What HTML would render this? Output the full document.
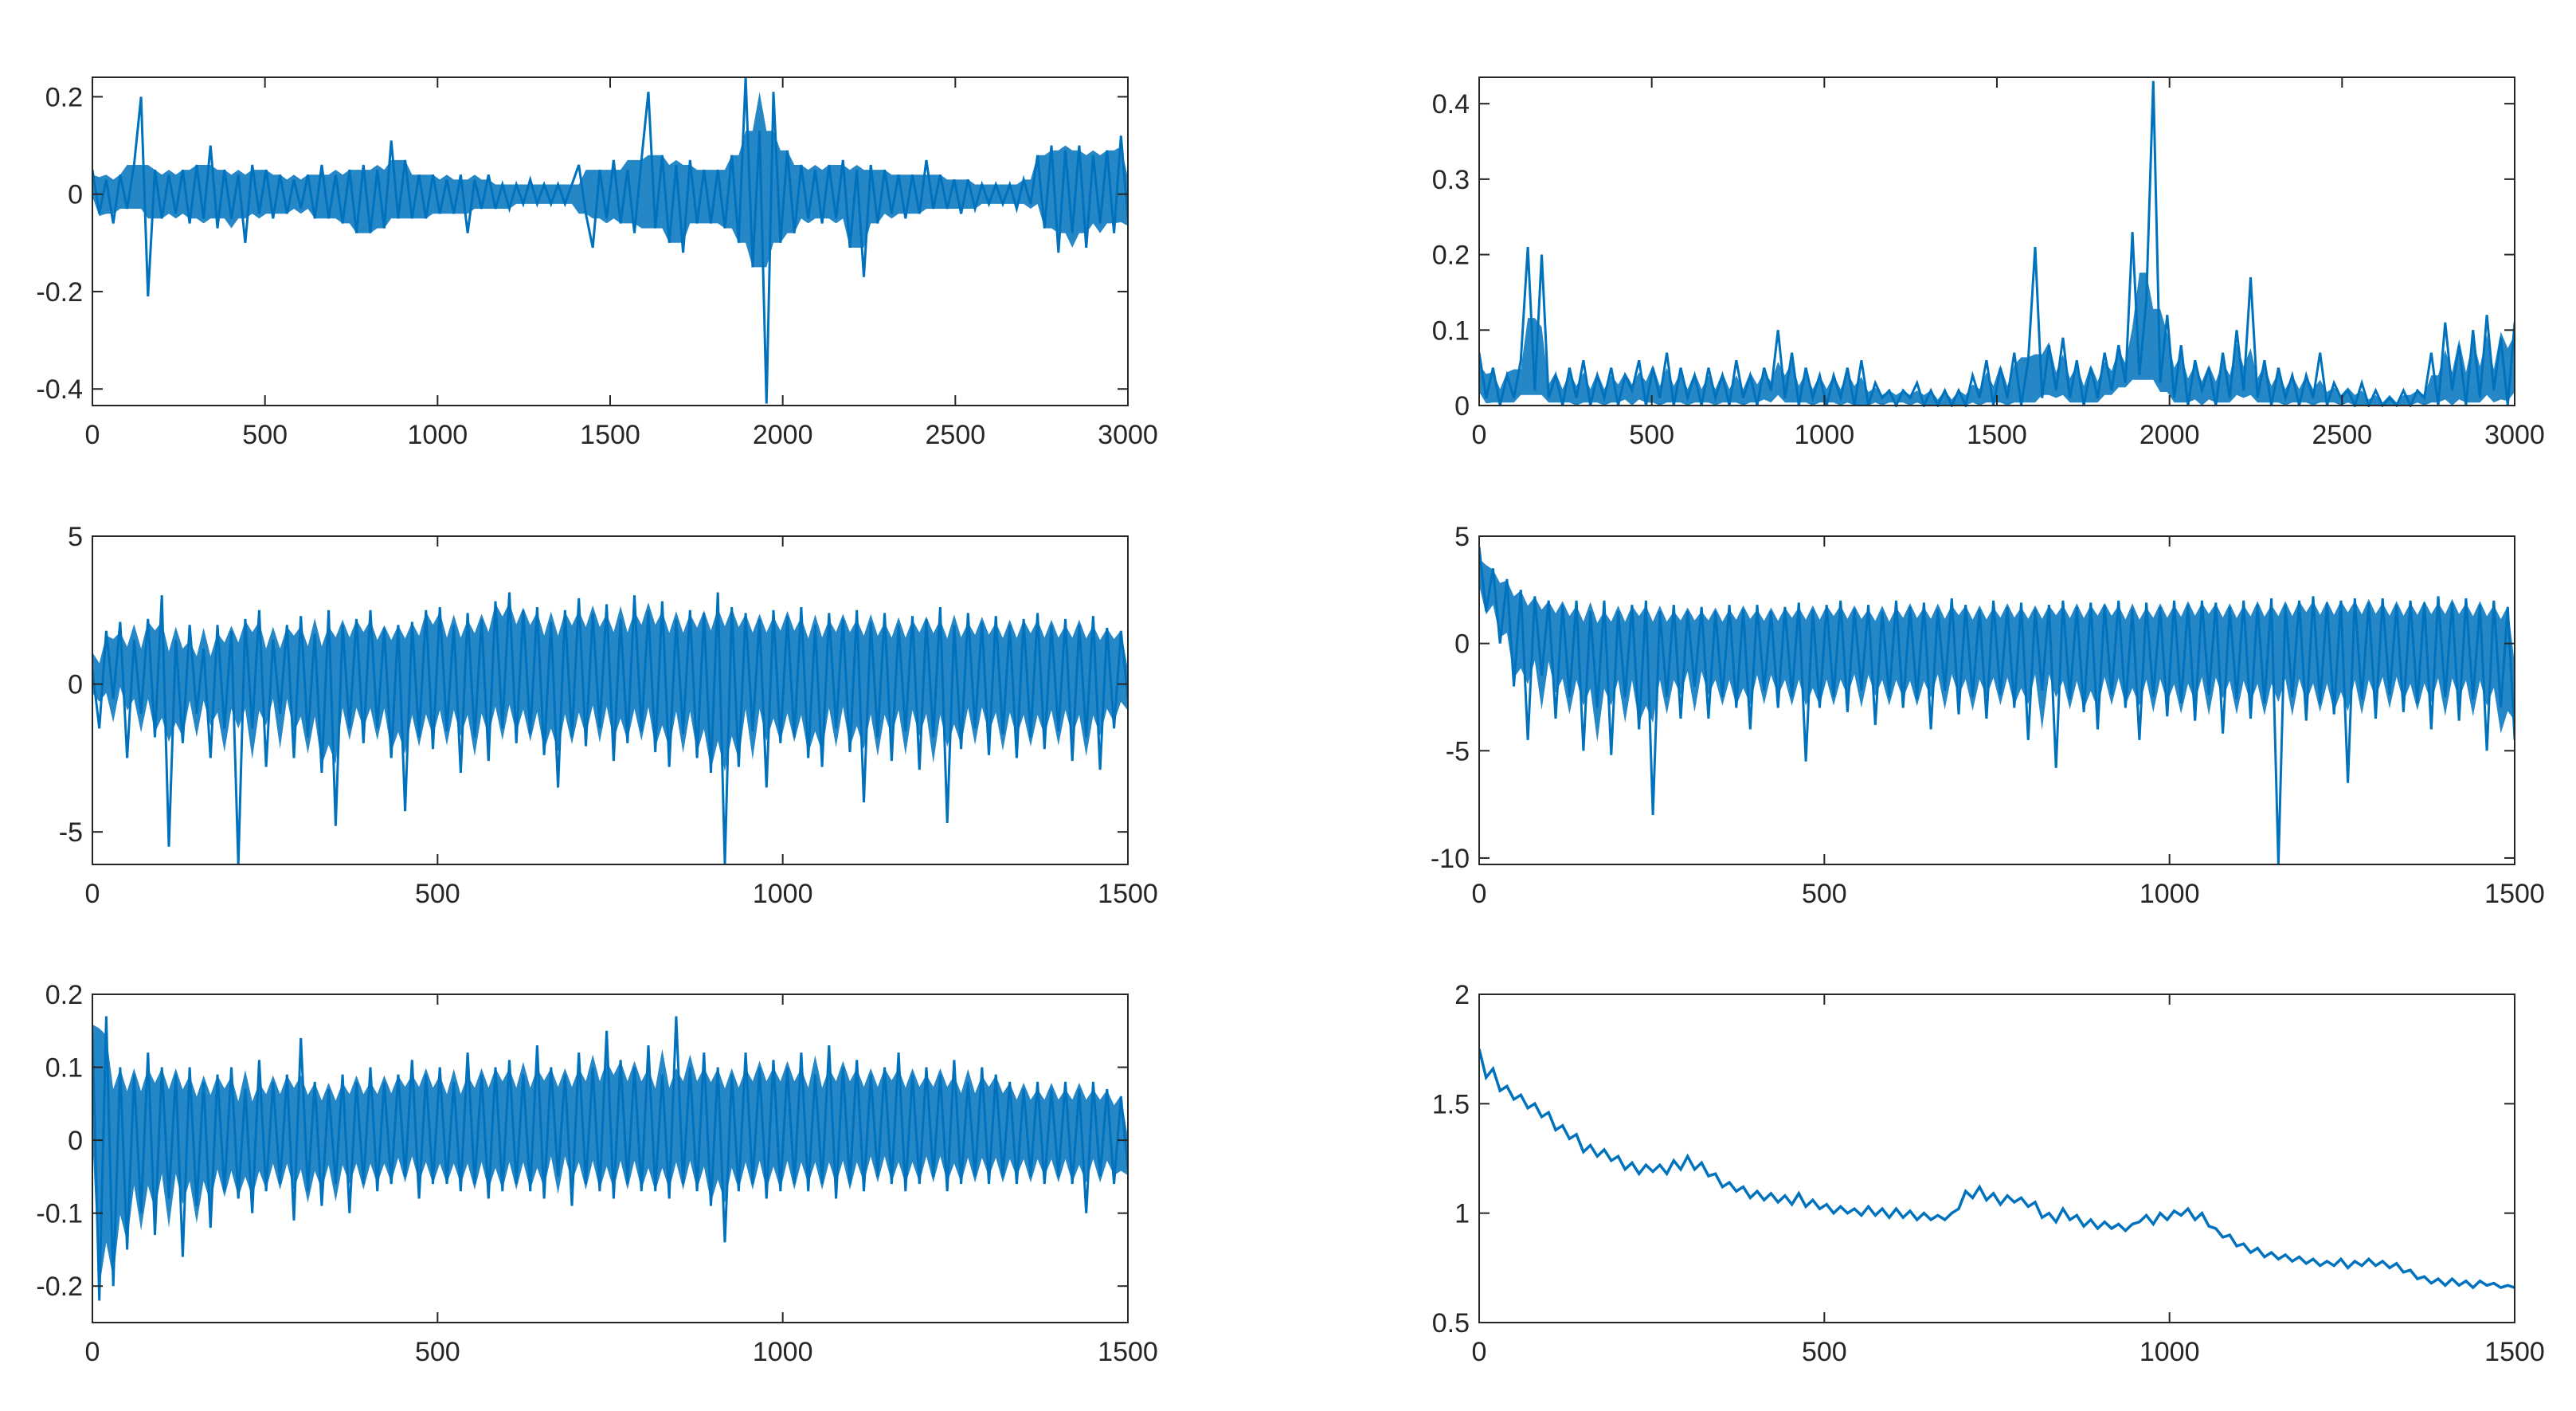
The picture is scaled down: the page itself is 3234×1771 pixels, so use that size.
<!DOCTYPE html>
<html><head><meta charset="utf-8"><style>
html,body{margin:0;padding:0;background:#fff;}
svg{display:block;font-family:"Liberation Sans",Arial,sans-serif;}
</style></head><body>
<svg id="fig" width="3234" height="1771" viewBox="0 0 3234 1771" xmlns="http://www.w3.org/2000/svg"></svg>
<script>
const p1Values=[0.05,-0.04,0.03,-0.06,0.04,-0.03,0.06,0.2,-0.21,0.05,-0.05,0.04,-0.04,0.05,-0.06,0.06,-0.05,0.1,-0.07,0.05,-0.05,0.04,-0.1,0.06,-0.04,0.05,-0.05,0.04,-0.04,0.03,-0.03,0.04,-0.05,0.06,-0.05,0.04,-0.06,0.05,-0.08,0.06,-0.08,0.05,-0.07,0.11,-0.05,0.07,-0.05,0.04,-0.05,0.04,-0.04,0.03,-0.04,0.04,-0.08,0.03,-0.03,0.04,-0.03,0.02,-0.03,0.02,-0.02,0.03,-0.02,0.02,-0.02,0.02,-0.02,0.02,0.06,-0.04,-0.11,0.05,-0.05,0.07,-0.06,0.05,-0.08,0.07,0.21,-0.07,0.08,-0.1,0.06,-0.12,0.07,-0.06,0.05,-0.06,0.05,-0.07,0.08,-0.1,0.24,-0.15,0.13,-0.43,0.21,-0.1,0.09,-0.08,0.06,-0.05,0.05,-0.06,0.06,-0.05,0.07,-0.11,0.05,-0.17,0.06,-0.06,0.05,-0.04,0.04,-0.05,0.04,-0.04,0.07,-0.03,0.04,-0.03,0.03,-0.04,0.03,-0.03,0.02,-0.02,0.02,-0.02,0.02,-0.03,0.03,-0.02,0.08,-0.07,0.1,-0.12,0.09,-0.08,0.1,-0.11,0.08,-0.06,0.09,-0.08,0.12,-0.05];
const p2Values=[0.07,0.01,0.05,0.0,0.04,0.01,0.06,0.21,0.02,0.2,0.01,0.04,0.0,0.05,0.01,0.06,0.0,0.04,0.01,0.05,0.0,0.04,0.02,0.06,0.0,0.05,0.01,0.07,0.0,0.05,0.01,0.04,0.0,0.05,0.01,0.04,0.0,0.06,0.01,0.04,0.0,0.05,0.02,0.1,0.01,0.07,0.0,0.05,0.01,0.04,0.0,0.04,0.01,0.05,0.0,0.06,0.0,0.03,0.01,0.02,0.0,0.02,0.01,0.03,0.0,0.02,0.0,0.02,0.0,0.02,0.0,0.04,0.01,0.06,0.0,0.05,0.01,0.07,0.0,0.06,0.21,0.01,0.08,0.02,0.09,0.01,0.06,0.0,0.05,0.01,0.07,0.02,0.08,0.03,0.23,0.04,0.14,0.43,0.03,0.12,0.01,0.08,0.0,0.06,0.02,0.05,0.0,0.07,0.01,0.1,0.02,0.17,0.01,0.06,0.0,0.05,0.01,0.04,0.0,0.04,0.01,0.07,0.0,0.03,0.01,0.02,0.0,0.03,0.0,0.02,0.0,0.01,0.0,0.02,0.0,0.02,0.01,0.07,0.0,0.11,0.02,0.08,0.0,0.1,0.01,0.12,0.02,0.09,0.0,0.11];
const p3Values=[0.5,-1.5,1.8,-0.5,2.1,-2.5,1.5,-1,2.2,-1.8,3.0,-5.5,1.5,-2,2,-1,1.2,-2.5,2,-1.5,1.8,-6.1,2.2,-1.5,2.5,-2.8,1.5,-1,2,-2.5,2.3,-1.8,1.7,-3,2.5,-4.8,2,-1.5,2.2,-2,2.5,-1.5,1.9,-2.5,2,-4.3,2.1,-1.8,2.5,-2.2,2.6,-1.6,2,-3,2.4,-1.8,2.2,-2.6,2.8,-1.5,3.1,-2,2.5,-1.7,2.6,-2.4,2.1,-3.5,2.5,-1.8,2.9,-2.1,2.4,-1.5,2.7,-2.6,2.2,-2,3.0,-1.6,2.5,-2.3,2.8,-2.8,2.2,-1.7,2.5,-2.5,2.4,-3,3.1,-6.1,2.6,-2.8,2.4,-1.6,2.2,-3.5,2.5,-2,2.3,-1.8,2.6,-2.5,2,-2.8,2.4,-1.5,2.2,-2.3,2.5,-4.0,2.1,-1.8,2.4,-2.6,2,-1.6,2.3,-2.9,2.2,-1.8,2.6,-4.7,2,-2.2,2.4,-1.5,2.1,-2.4,2.3,-1.7,2,-2.5,2.2,-1.8,2.4,-2.2,2,-1.6,2.2,-2.6,2,-1.8,2.3,-2.9,1.9,-1.5,1.8,-0.5];
const p4Values=[4.5,1.5,3.5,0,3,-2,2.5,-4.5,2.2,-1.5,2,-3.5,1.8,-2.5,2,-5,1.5,-3,2,-5.2,1.5,-2.5,1.8,-4,2,-8,1.5,-2.5,1.8,-3.5,1.5,-2,1.7,-3.5,1.5,-2.5,1.8,-3,1.6,-4,1.8,-2.2,1.5,-3,1.7,-2.5,1.9,-5.5,1.6,-3,1.8,-2.5,2,-3.2,1.6,-2.2,1.8,-3.8,1.5,-2.5,2,-3,1.7,-2.6,1.9,-4,1.6,-2.2,2.1,-3.3,1.8,-2.5,1.6,-3.5,2,-2.4,1.7,-3,1.9,-4.5,1.6,-2.2,1.8,-5.8,2,-2.6,1.7,-3.2,1.9,-4,1.8,-2.4,2,-3,1.6,-4.5,1.9,-2.5,1.7,-3.4,2,-2.8,1.8,-3.6,2,-2.4,1.9,-4.2,1.7,-2.6,2,-3.5,1.8,-2.8,2.1,-10.3,1.8,-2.5,2,-3.6,2.2,-2.8,1.9,-3.3,2,-6.5,2.1,-2.6,1.9,-3.5,2.1,-2.4,1.8,-3.2,2,-2.8,1.9,-4,2.2,-2.5,1.9,-3.6,2.1,-2.6,1.8,-5,2,-3,1.7,-4.5];
const p5Values=[0.15,-0.22,0.17,-0.2,0.1,-0.15,0.09,-0.1,0.12,-0.13,0.1,-0.08,0.09,-0.16,0.1,-0.09,0.08,-0.12,0.09,-0.07,0.1,-0.08,0.07,-0.1,0.11,-0.07,0.08,-0.06,0.09,-0.11,0.14,-0.07,0.08,-0.09,0.07,-0.06,0.09,-0.1,0.08,-0.06,0.1,-0.07,0.08,-0.06,0.09,-0.05,0.11,-0.08,0.09,-0.06,0.1,-0.06,0.08,-0.07,0.12,-0.06,0.09,-0.08,0.1,-0.07,0.11,-0.06,0.09,-0.07,0.13,-0.08,0.1,-0.05,0.09,-0.09,0.12,-0.06,0.1,-0.07,0.15,-0.08,0.11,-0.06,0.1,-0.07,0.13,-0.07,0.09,-0.08,0.17,-0.06,0.1,-0.07,0.12,-0.09,0.1,-0.14,0.09,-0.07,0.12,-0.06,0.1,-0.08,0.11,-0.07,0.1,-0.06,0.12,-0.07,0.09,-0.06,0.13,-0.08,0.1,-0.06,0.11,-0.07,0.09,-0.05,0.1,-0.06,0.12,-0.07,0.09,-0.06,0.1,-0.05,0.09,-0.07,0.11,-0.06,0.08,-0.05,0.1,-0.06,0.09,-0.05,0.08,-0.06,0.07,-0.05,0.08,-0.06,0.07,-0.05,0.08,-0.06,0.07,-0.1,0.08,-0.05,0.07,-0.06,0.06,-0.04];
const p6Values=[1.75,1.62,1.66,1.56,1.58,1.52,1.54,1.48,1.5,1.44,1.46,1.38,1.4,1.34,1.36,1.28,1.31,1.26,1.29,1.24,1.26,1.2,1.23,1.18,1.22,1.19,1.22,1.18,1.24,1.2,1.26,1.2,1.23,1.17,1.18,1.12,1.14,1.1,1.12,1.07,1.1,1.06,1.09,1.05,1.08,1.04,1.09,1.03,1.06,1.02,1.04,1.0,1.03,1.0,1.02,0.99,1.03,0.99,1.02,0.98,1.02,0.98,1.01,0.97,1.0,0.97,0.99,0.97,1.0,1.02,1.1,1.07,1.12,1.06,1.09,1.04,1.08,1.05,1.07,1.03,1.05,0.98,1.0,0.96,1.02,0.97,0.99,0.94,0.97,0.93,0.96,0.93,0.95,0.92,0.95,0.96,0.99,0.95,1.0,0.97,1.01,0.99,1.02,0.97,1.0,0.94,0.93,0.89,0.9,0.85,0.86,0.82,0.84,0.8,0.82,0.79,0.81,0.78,0.8,0.77,0.79,0.76,0.78,0.76,0.79,0.75,0.78,0.76,0.79,0.76,0.78,0.75,0.77,0.73,0.74,0.7,0.71,0.68,0.7,0.67,0.7,0.67,0.69,0.66,0.69,0.67,0.68,0.66,0.67,0.66];
const xTicks3000=[0,500,1000,1500,2000,2500,3000];
const xTicks1500=[0,500,1000,1500];
const p1YTicks=[0.2,0,-0.2,-0.4];
const p2YTicks=[0,0.1,0.2,0.3,0.4];
const p3YTicks=[5,0,-5];
const p4YTicks=[5,0,-5,-10];
const p5YTicks=[0.2,0.1,0,-0.1,-0.2];
const p6YTicks=[2,1.5,1,0.5];

const NS="http://www.w3.org/2000/svg";
const fig=document.getElementById('fig');
function mk(tag,attrs,parent){const e=document.createElementNS(NS,tag);for(const k in attrs)e.setAttribute(k,attrs[k]);parent.appendChild(e);return e;}
function pct(arr,q){const s=arr.slice().sort((a,b)=>a-b);const k=(s.length-1)*q;const lo=Math.floor(k),hi=Math.ceil(k);return s[lo]+(s[hi]-s[lo])*(k-lo);}

const panels=[
 {name:'panel-top-left',vals:p1Values,xmax:3000,xt:xTicks3000,yt:p1YTicks,ymin:-0.434,ymax:0.24,L:116,T:97,W:1300,sw:3,band:[0.25,0.75]},
 {name:'panel-top-right',vals:p2Values,xmax:3000,xt:xTicks3000,yt:p2YTicks,ymin:0,ymax:0.435,L:1857,T:97,W:1300,sw:3,band:[0.1,0.6]},
 {name:'panel-middle-left',vals:p3Values,xmax:1500,xt:xTicks1500,yt:p3YTicks,ymin:-6.1,ymax:5,L:116,T:673,W:1300,sw:3,band:[0.3,0.72]},
 {name:'panel-middle-right',vals:p4Values,xmax:1500,xt:xTicks1500,yt:p4YTicks,ymin:-10.3,ymax:5,L:1857,T:673,W:1300,sw:3,band:[0.3,0.72]},
 {name:'panel-bottom-left',vals:p5Values,xmax:1500,xt:xTicks1500,yt:p5YTicks,ymin:-0.25,ymax:0.2,L:116,T:1248,W:1300,sw:3,band:[0.3,0.72]},
 {name:'panel-bottom-right',vals:p6Values,xmax:1500,xt:xTicks1500,yt:p6YTicks,ymin:0.5,ymax:2,L:1857,T:1248,W:1300,sw:3.5,band:null}
];
const H=412;
panels.forEach(p=>{
 const g=mk('g',{},fig);
 
 
 const sx=v=>p.L+v/p.xmax*p.W;
 const sy=v=>p.T+H-(v-p.ymin)/(p.ymax-p.ymin)*H;
 const clipId='clip-'+p.name;
 const cp=mk('clipPath',{id:clipId},g);
 mk('rect',{x:p.L,y:p.T-2,width:p.W,height:H+4},cp);
 const n=p.vals.length;
 const xi=i=>sx(i*p.xmax/(n-1));
 if(p.band){
  const up=[],lo=[];
  for(let i=0;i<n;i++){
   const w=p.vals.slice(Math.max(0,i-2),Math.min(n,i+3));
   up.push(pct(w,p.band[1]));lo.push(pct(w,p.band[0]));
  }
  let d='M'+up.map((v,i)=>xi(i).toFixed(1)+','+sy(v).toFixed(1)).join(' L');
  for(let i=n-1;i>=0;i--)d+=' L'+xi(i).toFixed(1)+','+sy(lo[i]).toFixed(1);
  d+=' Z';
  const band=mk('path',{d:d,fill:'#0072BD','fill-opacity':0.85,stroke:'none','clip-path':'url(#'+clipId+')'},g);
  
  
 }
 const pts=p.vals.map((v,i)=>xi(i).toFixed(1)+','+sy(v).toFixed(1)).join(' ');
 const line=mk('polyline',{points:pts,fill:'none',stroke:'#0072BD','stroke-width':p.sw,'stroke-linejoin':'miter','clip-path':'url(#'+clipId+')'},g);
 
 
 const box=mk('rect',{x:p.L,y:p.T,width:p.W,height:H,fill:'none',stroke:'#262626','stroke-width':2},g);
 
 
 p.xt.forEach(t=>{
  const x=sx(t);
  mk('line',{x1:x,y1:p.T+H,x2:x,y2:p.T+H-13,stroke:'#262626','stroke-width':2},g);
  mk('line',{x1:x,y1:p.T,x2:x,y2:p.T+13,stroke:'#262626','stroke-width':2},g);
  const tx=mk('text',{x:x,y:p.T+H+48,'text-anchor':'middle','font-size':34,fill:'#262626'},g);
  tx.textContent=String(t);
  
  
 });
 p.yt.forEach(t=>{
  const y=sy(t);
  mk('line',{x1:p.L,y1:y,x2:p.L+13,y2:y,stroke:'#262626','stroke-width':2},g);
  mk('line',{x1:p.L+p.W,y1:y,x2:p.L+p.W-13,y2:y,stroke:'#262626','stroke-width':2},g);
  const tx=mk('text',{x:p.L-12,y:y+12,'text-anchor':'end','font-size':34,fill:'#262626'},g);
  tx.textContent=String(t);
  
  
 });
});
</script>
</body></html>
